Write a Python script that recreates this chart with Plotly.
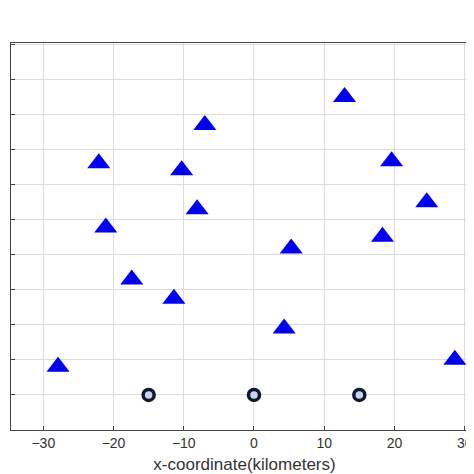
import plotly.graph_objects as go

# Posiciones de las estaciones (triángulos) y fuentes (círculos)
tri_x = [-27.9, -22.1, -21.1, -17.4, -11.4, -10.3, -8.1, -7.0, 4.3, 5.3, 12.9, 18.3, 19.6, 24.6, 28.6]
tri_y = [0.8, 6.6, 4.77, 3.29, 2.74, 6.4, 5.29, 7.69, 1.89, 4.17, 8.49, 4.51, 6.66, 5.49, 1.0]
src_x = [-15, 0, 15]
src_y = [0, 0, 0]
x_ticks = [-30, -20, -10, 0, 10, 20, 30]
y_ticks = list(range(-1, 11))

fig = go.Figure()

fig.add_trace(go.Scatter(
    x = tri_x, y = tri_y, mode = "markers",
    marker = dict(symbol = "triangle-up", size = 20, color = "#0000ee",
                  line = dict(width = 0))
))
fig.add_trace(go.Scatter(
    x = src_x, y = src_y, mode = "markers",
    marker = dict(symbol = "circle", size = 11, color = "#c8d4ee",
                  line = dict(width = 3.5, color = "#101830"))
))

fig.update_xaxes(range = [-34.6, 31.9], tickvals = x_ticks, automargin = False,
                 ticks = "inside", ticklen = 4, tickcolor = "#444",
                 showline = True, linewidth = 1, linecolor = "#444", mirror = True,
                 showgrid = True, gridcolor = "#dcdcdc", zeroline = False,
                 title = dict(text = "x-coordinate(kilometers)", standoff = 8),
                 tickfont = dict(size = 14, color = "#333"))
fig.update_yaxes(range = [-1.0, 10.03], tickvals = y_ticks, automargin = False,
                 ticks = "inside", ticklen = 4, tickcolor = "#444",
                 showticklabels = False,
                 showline = True, linewidth = 1, linecolor = "#444", mirror = True,
                 showgrid = True, gridcolor = "#dcdcdc", zeroline = False)

fig.update_layout(width = 474, height = 474, showlegend = False,
                  template = "plotly_white",
                  plot_bgcolor = "white", paper_bgcolor = "white",
                  font = dict(family = "Liberation Sans, Arial", size = 14, color = "#333"),
                  margin = dict(l = 3, r = 4, t = 35, b = 52))

fig.write_html("out.html")
